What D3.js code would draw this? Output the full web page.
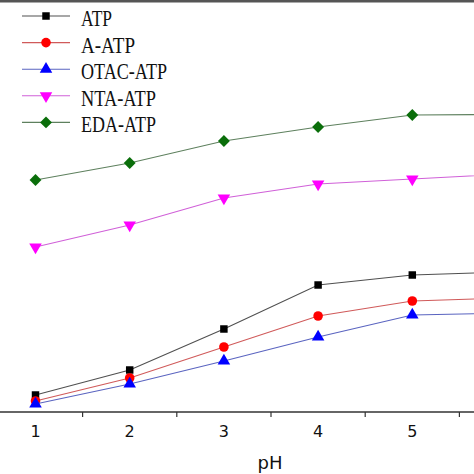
<!DOCTYPE html>
<html><head><meta charset="utf-8">
<script src="https://cdn.jsdelivr.net/npm/d3@7"></script>
<style>body{margin:0;background:#fff}svg{display:block}</style>
</head><body>
<svg id="c" width="474" height="474"></svg>
<script>
const phValues = [1, 2, 3, 4, 5, 6];
const seriesNames = ["ATP", "A-ATP", "OTAC-ATP", "NTA-ATP", "EDA-ATP"];
const atp     = [4.25, 10.5, 20.75, 31.75, 34.25, 35.0];
const aAtp    = [2.75, 8.5, 16.25, 24.0, 27.75, 28.5];
const otacAtp = [2.0, 7.0, 12.75, 18.75, 24.25, 24.75];
const ntaAtp  = [41.25, 46.75, 53.5, 57.0, 58.25, 59.5];
const edaAtp  = [58.0, 62.25, 67.75, 71.25, 74.25, 74.4];
const xTickLabels = ["1", "2", "3", "4", "5"];

const svg = d3.select("#c");
const x = d3.scaleLinear().domain([1, 5]).range([35.5, 412.3]);
const y = d3.scaleLinear().domain([0, 100]).range([412, 12]);

const styles = [
  {line:"#505050", fill:"#000", sym:d3.symbolSquare, size:56, rot:0},
  {line:"#d05a5a", fill:"#f00", sym:d3.symbolCircle, size:72, rot:0},
  {line:"#5a64c0", fill:"#00f", sym:d3.symbolTriangle, size:68, rot:0},
  {line:"#d060d8", fill:"#f0f", sym:d3.symbolTriangle, size:68, rot:180},
  {line:"#5e805e", fill:"#0a6e0a", sym:d3.symbolDiamond2 || d3.symbolDiamond, size:90, rot:0}
];
const data = [atp, aAtp, otacAtp, ntaAtp, edaAtp];

// top dark band
svg.append("rect").attr("x",0).attr("y",0).attr("width",474).attr("height",2.5).attr("fill","#555");

// x axis
const axisG = svg.append("g").attr("transform","translate(0,412)");
axisG.append("line").attr("x1",0).attr("x2",474).attr("y1",0).attr("y2",0).attr("stroke","#333").attr("stroke-width",1.3);
const minorTicks = [1.5, 2.5, 3.5, 4.5, 5.5];
axisG.selectAll("line.mt").data(minorTicks).enter().append("line")
  .attr("x1",d=>x(d)).attr("x2",d=>x(d)).attr("y1",0).attr("y2",5)
  .attr("stroke","#333").attr("stroke-width",1.2);
axisG.selectAll("text").data(xTickLabels).enter().append("text")
  .attr("x",d=>x(+d)).attr("y",25).attr("text-anchor","middle")
  .attr("font-family","DejaVu Sans").attr("font-size",16).attr("fill","#111").text(d=>d);
svg.append("text").attr("x",270).attr("y",469).attr("text-anchor","middle")
  .attr("font-family","DejaVu Sans").attr("font-size",18).attr("fill","#111").text("pH");

// series
const line = d3.line().x((d,i)=>x(phValues[i])).y(d=>y(d));
data.forEach((vals,k)=>{
  const st = styles[k];
  svg.append("path").datum(vals).attr("d",line).attr("fill","none")
    .attr("stroke",st.line).attr("stroke-width",1.1);
  svg.selectAll("path.m"+k).data(vals).enter().append("path")
    .attr("d", d3.symbol().type(st.sym).size(st.size))
    .attr("transform",(d,i)=>`translate(${x(phValues[i])},${y(d)}) rotate(${st.rot})`)
    .attr("fill",st.fill);
});

// legend
const lg = svg.append("g");
const widths = [31, 54, 86, 75, 75];
seriesNames.forEach((name,k)=>{
  const st = styles[k];
  const cy = 16 + k*26.6;
  lg.append("line").attr("x1",22).attr("x2",70).attr("y1",cy).attr("y2",cy)
    .attr("stroke",st.line).attr("stroke-width",1.1);
  lg.append("path").attr("d", d3.symbol().type(st.sym).size(st.size))
    .attr("transform",`translate(46,${cy}) rotate(${st.rot})`).attr("fill",st.fill);
  lg.append("text").attr("x",81).attr("y",cy+10)
    .attr("font-family","Liberation Serif").attr("font-size",23)
    .attr("textLength",widths[k]).attr("lengthAdjust","spacingAndGlyphs")
    .attr("fill","#111").text(name);
});
</script>
</body></html>
